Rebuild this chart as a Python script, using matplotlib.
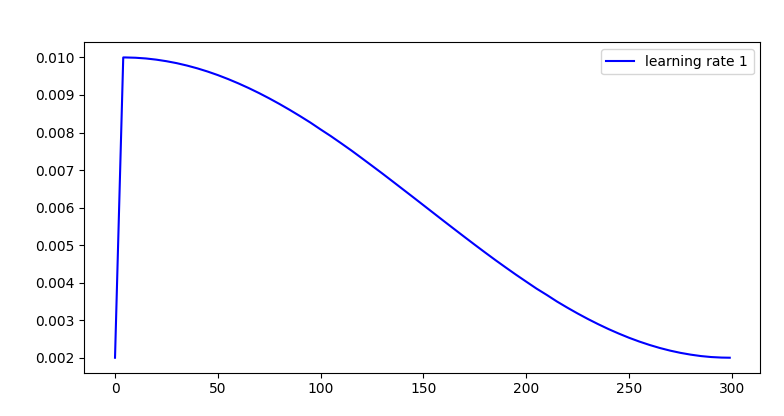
import matplotlib
matplotlib.use("Agg")
import matplotlib.pyplot as plt

# epochs and learning rate (linear warmup, then smooth decay)
epochs = [0, 1, 2, 3, 4, 5, 10, 15, 20, 25, 30, 35, 40, 45, 50, 55, 60,
          65, 70, 75, 80, 85, 90, 95, 100, 105, 110, 115, 120, 125, 130,
          135, 140, 145, 150, 155, 160, 165, 170, 175, 180, 185, 190, 195,
          200, 205, 210, 215, 220, 225, 230, 235, 240, 245, 250, 255, 260,
          265, 270, 275, 280, 285, 290, 295, 299]
lr = [0.002, 0.004, 0.006, 0.008, 0.01000, 0.010000, 0.009992, 0.009973,
      0.009942, 0.009900, 0.009848, 0.009784, 0.009710, 0.009625, 0.009530,
      0.009424, 0.009309, 0.009185, 0.009052, 0.008910, 0.008760, 0.008602,
      0.008437, 0.008266, 0.008082, 0.007903, 0.007713, 0.007520, 0.007318,
      0.007114, 0.006909, 0.006699, 0.006488, 0.006277, 0.006064, 0.005851,
      0.005638, 0.005427, 0.005217, 0.005009, 0.004804, 0.004602, 0.004406,
      0.004213, 0.004027, 0.003842, 0.003673, 0.003496, 0.003334, 0.003179,
      0.003032, 0.002894, 0.002764, 0.002644, 0.002532, 0.002431, 0.002340,
      0.002259, 0.002189, 0.002130, 0.002082, 0.002044, 0.002018, 0.002004,
      0.002000]
label = "learning rate 1"

fig, ax = plt.subplots(figsize=(7.84, 4.16), dpi=100)
fig.subplots_adjust(left=0.1075, right=0.970, top=0.898, bottom=0.104)
ax.plot(epochs, lr, color="blue", label=label)
ax.legend(loc="upper right")
fig.savefig("out.png", dpi=100)
